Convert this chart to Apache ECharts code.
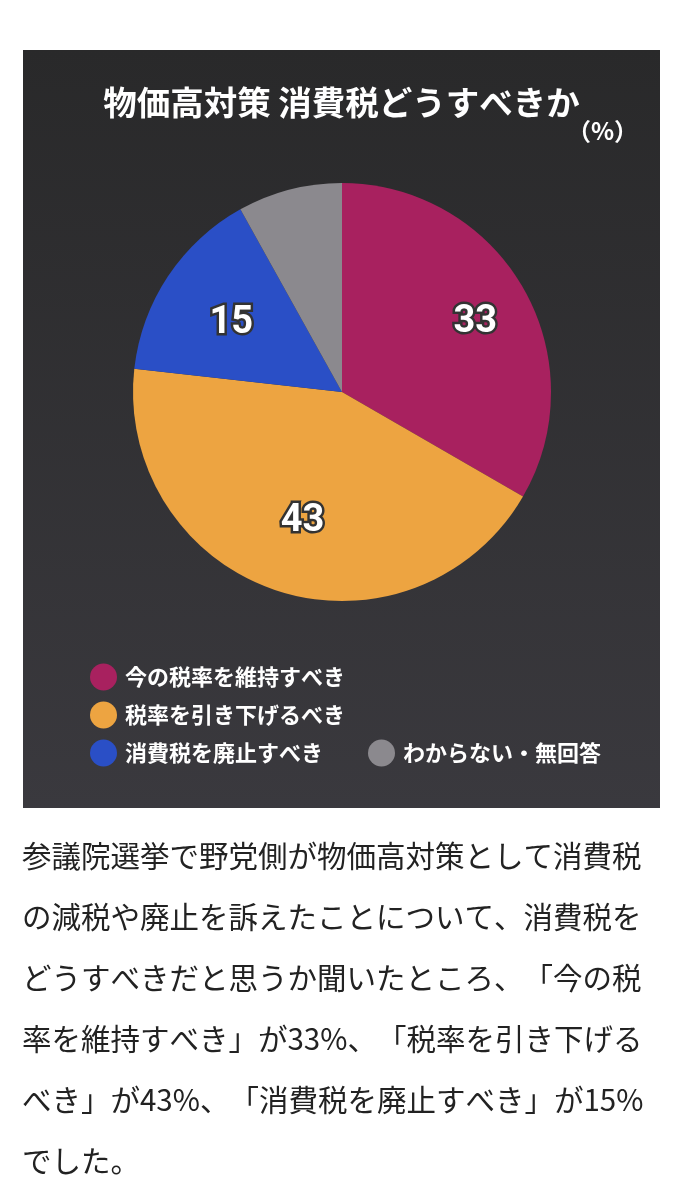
<!DOCTYPE html>
<html>
<head>
<meta charset="utf-8">
<script src="https://cdn.jsdelivr.net/npm/echarts@6/dist/echarts.min.js"></script>
<style>
  html, body { margin: 0; padding: 0; background: #ffffff; }
  #wrap { position: relative; width: 683px; height: 1200px; }
  #chart { position: absolute; left: 0; top: 0; width: 683px; height: 1200px; }
  #para {
    position: absolute; left: 22px; top: 823.5px;
    font-family: "Noto Sans CJK JP", "Noto Sans", sans-serif;
    font-size: 29.5px; line-height: 61px; color: #222222;
    white-space: pre; text-spacing-trim: space-all;
    font-kerning: none; font-feature-settings: "palt" 0, "halt" 0;
  }
</style>
</head>
<body>
<div id="wrap">
  <div id="chart"></div>
  <div id="para"></div>
</div>
<script>
// ---- data ----
const categories = ['今の税率を維持すべき', '税率を引き下げるべき', '消費税を廃止すべき', 'わからない・無回答'];
const values = [33, 43, 15, 8];
const colors = ['#A8215F', '#EDA441', '#2A4FC6', '#8B898E'];
const titleText = '物価高対策 消費税どうすべきか';
const unitText = '（%）';
const paragraphLines = [
  '参議院選挙で野党側が物価高対策として消費税',
  'の減税や廃止を訴えたことについて、消費税を',
  'どうすべきだと思うか聞いたところ、「今の税',
  '率を維持すべき」が33%、「税率を引き下げる',
  'べき」が43%、「消費税を廃止すべき」が15%',
  'でした。'
];

document.getElementById('para').textContent = paragraphLines.join('\n');

const CJK = '"Noto Sans CJK JP", "Noto Sans", sans-serif';
const chart = echarts.init(document.getElementById('chart'), null, { renderer: 'canvas' });

const pieData = categories.map((c, i) => ({ name: c, value: values[i], itemStyle: { color: colors[i] } }));
const labelOffsets = [[18, -3], [2, 3], [0, 5], null];
const labelData = categories.map((c, i) => ({
  name: c,
  value: values[i],
  label: labelOffsets[i] ? { offset: labelOffsets[i] } : { show: false }
}));

const option = {
  backgroundColor: '#ffffff',
  animation: false,
  title: {
    text: titleText,
    left: 'center',
    top: 81,
    textStyle: { color: '#ffffff', fontSize: 33.5, fontWeight: 'bold', fontFamily: CJK }
  },
  graphic: [
    {
      type: 'rect', z: -10, silent: true,
      shape: { x: 23, y: 50, width: 637, height: 758 },
      style: {
        fill: new echarts.graphic.LinearGradient(0, 0, 0, 1, [
          { offset: 0, color: '#29292a' },
          { offset: 1, color: '#3a393e' }
        ])
      }
    },
    {
      type: 'text', silent: true,
      x: 638, y: 131,
      style: {
        text: unitText, fill: '#ffffff', fontSize: 24, fontWeight: 'bold', fontFamily: CJK,
        align: 'right', verticalAlign: 'middle'
      }
    }
  ],
  legend: [
    {
      data: categories.slice(0, 3),
      orient: 'vertical',
      left: 85, top: 658.5,
      icon: 'circle', itemWidth: 27, itemHeight: 27, itemGap: 11,
      selectedMode: false,
      textStyle: { color: '#ffffff', fontSize: 22, fontWeight: 'bold', fontFamily: CJK, padding: [0, 0, 0, 3] }
    },
    {
      data: categories.slice(3),
      orient: 'vertical',
      left: 363, top: 734.5,
      icon: 'circle', itemWidth: 27, itemHeight: 27,
      selectedMode: false,
      textStyle: { color: '#ffffff', fontSize: 22, fontWeight: 'bold', fontFamily: CJK, padding: [0, 0, 0, 3] }
    }
  ],
  series: [
    {
      type: 'pie',
      center: [342, 392],
      radius: [0, 209],
      startAngle: 90,
      clockwise: true,
      silent: true,
      label: { show: false },
      labelLine: { show: false },
      itemStyle: { borderWidth: 0 },
      data: pieData
    },
    {
      type: 'pie',
      center: [342, 392],
      radius: [0, 260],
      startAngle: 90,
      clockwise: true,
      silent: true,
      legendHoverLink: false,
      itemStyle: { color: 'rgba(0,0,0,0)', borderWidth: 0 },
      label: {
        show: true,
        position: 'inside',
        formatter: '{c}',
        color: '#ffffff',
        fontSize: 38,
        fontWeight: 'bold',
        fontFamily: 'Roboto, "Liberation Sans", sans-serif',
        textBorderColor: '#333333',
        textBorderWidth: 5
      },
      labelLine: { show: false },
      data: labelData
    }
  ]
};
chart.setOption(option);
</script>
</body>
</html>
